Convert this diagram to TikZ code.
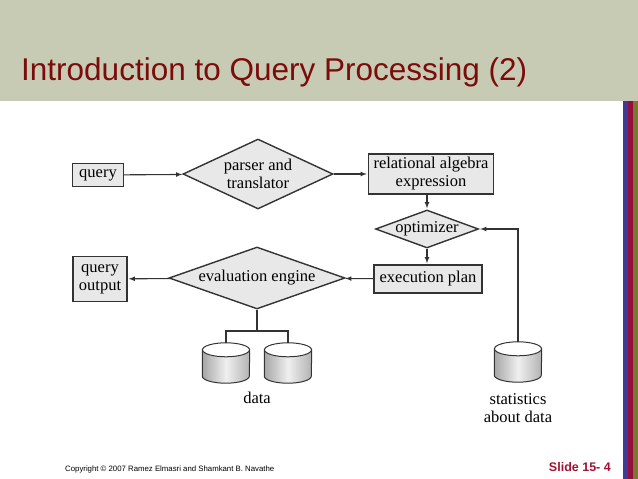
\documentclass[tikz,border=0pt]{standalone}
\usepackage{fontspec}
\setmainfont{Liberation Serif}
\newfontfamily\slidefont{Liberation Sans}
\usetikzlibrary{arrows,positioning,shapes,calc}

\definecolor{bandgray}{RGB}{200,203,179}
\definecolor{titlered}{RGB}{122,12,12}
\definecolor{slidered}{RGB}{160,20,50}
\definecolor{stripeblue}{RGB}{62,58,150}
\definecolor{stripered}{RGB}{150,15,60}
\definecolor{stripeolive}{RGB}{120,122,45}

\begin{document}
\begin{tikzpicture}[
        x=1pt, y=-1pt,
        every node/.style={font=\fontsize{16.5}{18}\selectfont, text=black},
        box/.style={rectangle, draw=black!80, fill=gray!18, line width=1.4pt, inner sep=0pt, align=center},
        decision/.style={diamond, draw=black!80, fill=gray!18, line width=1.4pt, inner sep=0pt, align=center},
        store/.style={rectangle, minimum width=47pt, minimum height=40pt, inner sep=0pt},
        arrow/.style={-latex, line width=1.1pt, draw=black!80, shorten >=1pt},
        link/.style={line width=1.1pt, draw=black!80}
    ]
        \useasboundingbox (0,0) rectangle (638,479);

        % Slide frame
        \fill[bandgray] (0,0) rectangle (638,101);
        \fill[stripeblue] (623,101) rectangle (628,479);
        \fill[stripered] (628,101) rectangle (633,479);
        \fill[stripeolive] (633,101) rectangle (638,479);
        \node[anchor=base west, inner sep=0pt, text=titlered, font=\slidefont\fontsize{31.5}{36}\selectfont]
            (title) at (21,80) {Introduction to Query Processing (2)};
        \node[anchor=base west, inner sep=0pt, text=black, font=\slidefont\fontsize{7.8}{9}\selectfont]
            (copy) at (65,471) {Copyright © 2007 Ramez Elmasri and Shamkant B. Navathe};
        \node[anchor=base east, inner sep=0pt, text=slidered, font=\slidefont\bfseries\fontsize{12.5}{14}\selectfont]
            (slideno) at (611,471) {Slide 15- 4};

        % Top row
        \node[box, minimum width=51pt, minimum height=23pt] (query) at (98,175) {query};
        \node[decision, aspect=2.14, minimum width=150pt, minimum height=70pt] (parser) at (258,174) {parser and\\translator};
        \node[box, minimum width=125pt, minimum height=40pt] (relalg) at (431,174) {relational algebra\\expression};

        % Middle column
        \node[decision, aspect=2.71, minimum width=103pt, minimum height=38pt] (optimizer) at (427,229) {optimizer};
        \node[box, minimum width=108pt, minimum height=28pt] (plan) at (428,279) {execution plan};

        % Bottom row
        \node[decision, aspect=2.84, minimum width=176pt, minimum height=62pt] (engine) at (257,278) {evaluation engine};
        \node[box, minimum width=54pt, minimum height=45pt] (output) at (100,279) {query\\output};

        % Data stores
        \node[store] (data1) at (226,363) {};
        \node[store] (data2) at (288,363) {};
        \node (datalabel) at (257,398) {data};
        \node[store] (stats) at (518,362) {};
        \node[align=center] (statslabel) at (518,408) {statistics\\about data};
        \foreach \s in {data1,data2,stats} {
            \shade[left color=gray!70, right color=gray!60, middle color=gray!12, draw=black!80, line width=1pt]
                ($(\s.north west)+(0,7)$) -- ($(\s.south west)+(0,-7)$)
                arc[start angle=180, end angle=0, x radius=23.5, y radius=7]
                -- ($(\s.north east)+(0,7)$) -- cycle;
            \draw[fill=white, draw=black!80, line width=1pt] ($(\s.north)+(0,7)$) ellipse [x radius=23.5, y radius=7];
        }

        % Flow
        \draw[arrow] (query) -- (parser);
        \draw[arrow] (parser) -- (relalg);
        \draw[arrow] (relalg.south -| optimizer) -- (optimizer);
        \draw[arrow] (optimizer) -- (plan.north -| optimizer);
        \draw[arrow] (plan) -- (engine);
        \draw[arrow] (engine) -- (output);

        % Data access
        \coordinate (split) at (257,331);
        \draw[link] (engine.south) -- (split);
        \draw[link] (split) -| (data1.north);
        \draw[link] (split) -| (data2.north);
        \draw[arrow] (stats.north) |- (optimizer.east);
    \end{tikzpicture}
\end{document}
